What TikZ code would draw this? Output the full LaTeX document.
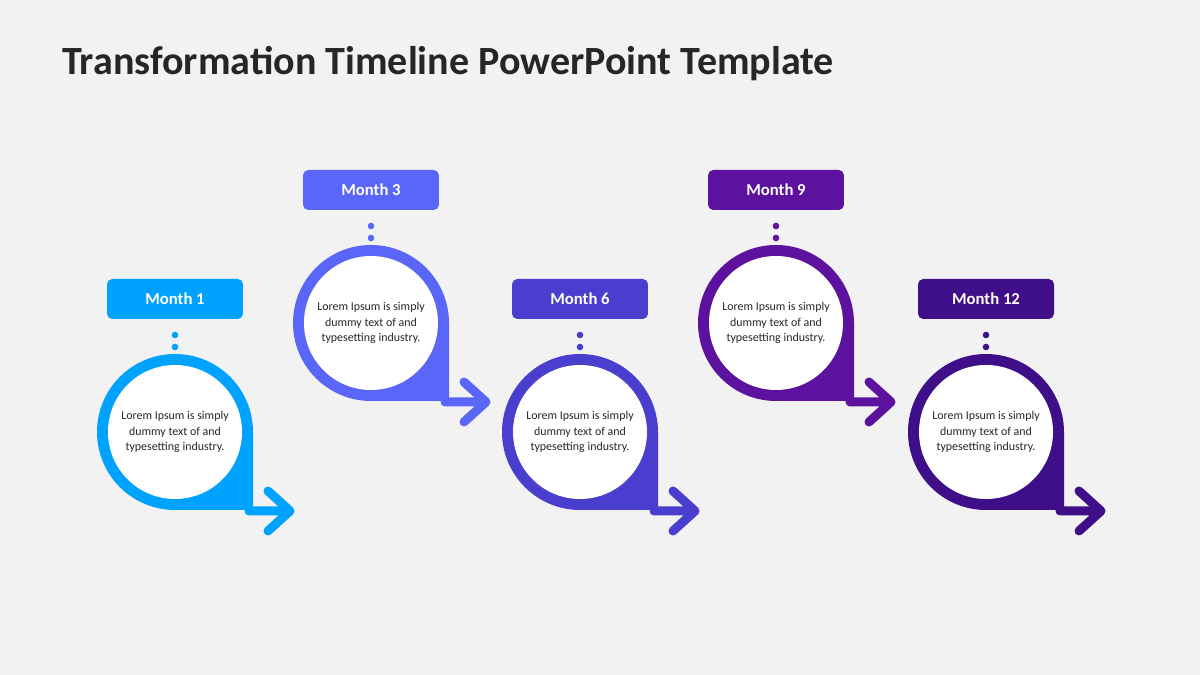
\documentclass[tikz,border=0pt]{standalone}
\usepackage{fontspec}
\setmainfont{Carlito}
\definecolor{bgGray}{HTML}{F2F2F2}
\definecolor{mOne}{HTML}{00A2FF}
\definecolor{mThree}{HTML}{5A66F7}
\definecolor{mSix}{HTML}{4A3ECF}
\definecolor{mNine}{HTML}{5C129E}
\definecolor{mTwelve}{HTML}{3E0F88}
\tikzset{
  month/.style={rounded corners=3pt, minimum width=2.72cm, minimum height=0.8cm,
    text=white, font=\fontsize{9.5}{11}\selectfont\bfseries},
  body/.style={align=center, text=black!85, font=\fontsize{6.8}{9}\selectfont},
}
\begin{document}
\begin{tikzpicture}[x=0.02cm, y=0.02cm]
\fill[bgGray] (0,0) rectangle (1200,675);
\useasboundingbox (0,0) rectangle (1200,675);

\node[anchor=west, text=black!85, font=\fontsize{22.8}{26}\selectfont\bfseries] (title) at (56,611)
  {Transformation Timeline PowerPoint Template};

% one step: centre x, centre y, colour, label
\foreach \cx/\cy/\col/\lab/\nm in {175/243/mOne/Month 1/a, 371/352/mThree/Month 3/b,
    580/243/mSix/Month 6/c, 776/352/mNine/Month 9/d, 986/243/mTwelve/Month 12/e}{
  \fill[\col] (\cx+78,\cy) arc[start angle=0, end angle=270, radius=78] -- (\cx+78,\cy-78) -- cycle;
  \fill[white] (\cx,\cy) circle (67);
  \node[body] (text-\nm) at (\cx,\cy) {Lorem Ipsum is simply\\dummy text of and\\typesetting industry.};
  \draw[\col, line width=0.18cm, line cap=round, line join=round]
    (\cx+74,\cy-79) -- (\cx+115,\cy-79)
    (\cx+93,\cy-59) -- (\cx+115,\cy-79) -- (\cx+93,\cy-99);
  \node[month, fill=\col] (box-\nm) at (\cx,\cy+133) {\lab};
  \fill[\col] (\cx,\cy+97) circle (3.3) (\cx,\cy+85) circle (3.3);
}
\end{tikzpicture}
\end{document}
